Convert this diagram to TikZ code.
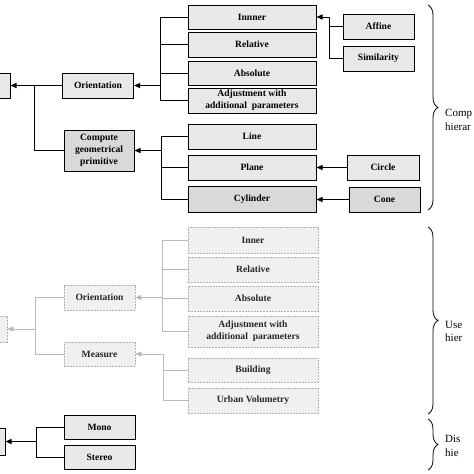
\documentclass[tikz,border=0pt]{standalone}
\usepackage{fontspec}
\setmainfont{Liberation Serif}
\usetikzlibrary{arrows.meta,decorations.pathreplacing}
\begin{document}
\begin{tikzpicture}[x=1pt,y=-1pt,
  bx/.style={draw=black,line width=1pt,fill=black!9,inner sep=0pt,font=\bfseries\fontsize{9.6}{12}\selectfont,align=center},
  dbx/.style={bx,fill=black!15},
  gbx/.style={draw=black!30,dash pattern=on 2pt off 1pt,line width=0.7pt,fill=black!6,inner sep=0pt,font=\bfseries\fontsize{9.6}{12}\selectfont,align=center,text=black!85},
  ln/.style={line width=1pt,draw=black},
  arr/.style={ln,-{Triangle[length=6pt,width=5pt]}},
  gln/.style={line width=0.7pt,draw=black!28},
  garr/.style={gln,-{Triangle[length=6pt,width=5pt]}},
  br/.style={decorate,decoration={brace,amplitude=10pt},line width=0.8pt},
  lab/.style={anchor=west,align=left,font=\fontsize{11}{13.5}\selectfont,inner sep=0pt}
]
\clip (0,0) rectangle (474,474);
\fill[white] (0,0) rectangle (474,474);

% ---------- top (computational) ----------
\node[bx,minimum width=40,minimum height=25] (L1) at (-10,85.5) {};
\node[bx,minimum width=71,minimum height=25] (O1) at (98,85.5) {Orientation};
\node[dbx,minimum width=70,minimum height=41] (C1) at (99,150.5) {Compute\\geometrical\\primitive};
\node[bx,minimum width=128,minimum height=24] (Innner) at (252,17) {Innner};
\node[bx,minimum width=128,minimum height=25] (Rel1) at (252,44.5) {Relative};
\node[bx,minimum width=128,minimum height=24] (Abs1) at (252,73) {Absolute};
\node[bx,minimum width=128,minimum height=25] (Adj1) at (252,100.5) {Adjustment with\\additional\ \ parameters};
\node[bx,minimum width=128,minimum height=25] (Line) at (252,136.5) {Line};
\node[bx,minimum width=128,minimum height=25] (Plane) at (252,167.5) {Plane};
\node[dbx,minimum width=128,minimum height=26] (Cyl) at (252,199) {Cylinder};
\node[bx,minimum width=71,minimum height=25] (Affine) at (378.5,26.5) {Affine};
\node[bx,minimum width=71,minimum height=25] (Sim) at (378.5,58.5) {Similarity};
\node[bx,minimum width=72,minimum height=25] (Circle) at (383,167.5) {Circle};
\node[dbx,minimum width=71,minimum height=25] (Cone) at (384.5,199.5) {Cone};

\coordinate (j1) at (34,85.5);
\coordinate (j2) at (160,85.5);
\coordinate (jc) at (161,150.5);
\coordinate (j3) at (329,17);

\draw[arr] (O1.west) -- (L1.east);
\draw[ln] (C1.west) -| (j1);
\draw[arr] (j2) -- (O1.east);
\draw[ln] (Innner.west) -| (j2);
\draw[ln] (Rel1.west) -| (j2);
\draw[ln] (Abs1.west) -| (j2);
\draw[ln] (Adj1.west) -| (j2);
\draw[arr] (jc) -- (C1.east);
\draw[ln] (Line.west) -| (jc);
\draw[ln] (Plane.west) -| (jc);
\draw[ln] (Cyl.west) -| (jc);
\draw[arr] (j3) -- (Innner.east);
\draw[ln] (Affine.west) -| (j3);
\draw[ln] (Sim.west) -| (j3);
\draw[arr] (Circle.west) -- (Plane.east);
\draw[arr] (Cone.west) -- (Cone.west -| Cyl.east);

% ---------- middle (user) ----------
\node[gbx,minimum width=37,minimum height=26] (L2) at (-11.5,329) {};
\node[gbx,minimum width=71,minimum height=25] (O2) at (99.5,297.5) {Orientation};
\node[gbx,minimum width=71,minimum height=24] (Meas) at (99.5,354) {Measure};
\node[gbx,minimum width=130,minimum height=26] (Inner2) at (253,240) {Inner};
\node[gbx,minimum width=130,minimum height=25] (Rel2) at (253,269.5) {Relative};
\node[gbx,minimum width=130,minimum height=25] (Abs2) at (253,298.5) {Absolute};
\node[gbx,minimum width=130,minimum height=31] (Adj2) at (253,331.5) {Adjustment with\\additional\ \ parameters};
\node[gbx,minimum width=130,minimum height=24] (Bld) at (253,370) {Building};
\node[gbx,minimum width=130,minimum height=25] (Urb) at (253,400.5) {Urban Volumetry};

\coordinate (j4) at (35,329);
\coordinate (j5) at (162,297.5);
\coordinate (j6) at (163,354);

\draw[garr] (j4) -- (L2.east);
\draw[gln] (O2.west) -| (j4);
\draw[gln] (Meas.west) -| (j4);
\draw[garr] (j5) -- (O2.east);
\draw[gln] (Inner2.west) -| (j5);
\draw[gln] (Rel2.west) -| (j5);
\draw[gln] (Abs2.west) -| (j5);
\draw[gln] (Adj2.west) -| (j5);
\draw[garr] (j6) -- (Meas.east);
\draw[gln] (Bld.west) -| (j6);
\draw[gln] (Urb.west) -| (j6);

% ---------- bottom (display) ----------
\node[bx,minimum width=35,minimum height=27] (L3) at (-12.5,441.5) {};
\node[bx,minimum width=71,minimum height=24] (Mono) at (99.5,427) {Mono};
\node[bx,minimum width=71,minimum height=24] (Stereo) at (99.5,457) {Stereo};
\coordinate (j7) at (36,441.5);
\draw[arr] (j7) -- (L3.east);
\draw[ln] (Mono.west) -| (j7);
\draw[ln] (Stereo.west) -| (j7);

% ---------- braces ----------
\coordinate (b1t) at (428,5);
\coordinate (b1b) at (428,210);
\coordinate (b2t) at (428,227);
\coordinate (b2b) at (428,414);
\coordinate (b3t) at (428,419);
\coordinate (b3b) at (428,470);
\draw[br] (b1t) -- (b1b);
\draw[br] (b2t) -- (b2b);
\draw[br] (b3t) -- (b3b);
\node[lab] (t1) at (445,120) {Comp\\hierar};
\node[lab] (t2) at (445,331.5) {Use\\hier};
\node[lab] (t3) at (445,446) {Dis\\hie};
\end{tikzpicture}
\end{document}
